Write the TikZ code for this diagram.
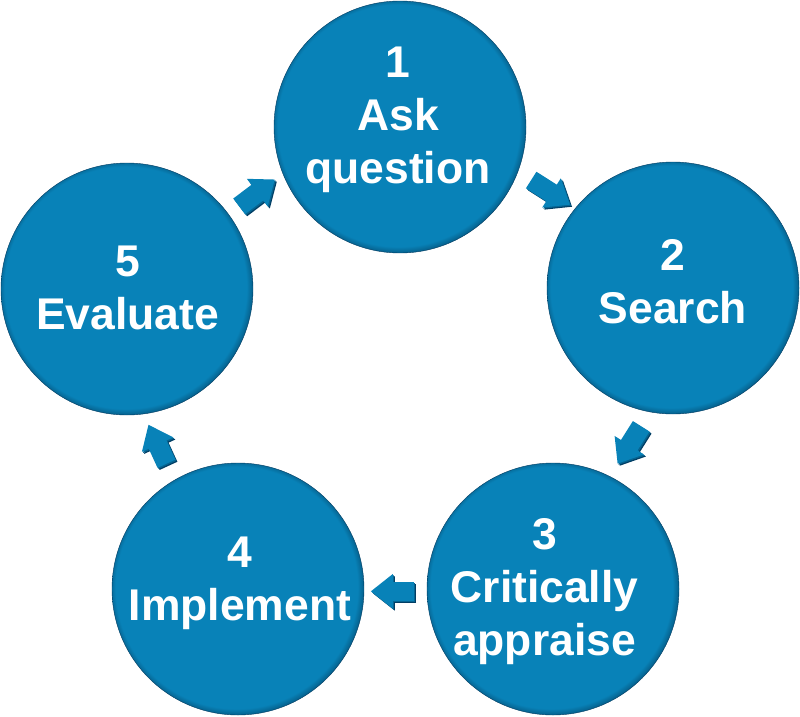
\documentclass[tikz,border=0pt]{standalone}
\usepackage{fontspec}
\setmainfont{Liberation Sans}
\usetikzlibrary{arrows.meta}
\definecolor{discblue}{RGB}{8,130,184}
\definecolor{discmid}{RGB}{6,100,145}
\definecolor{discdark}{RGB}{2,62,100}
\pgfdeclareradialshading{discrim}{\pgfpoint{-.7bp}{.7bp}}{%
  color(0bp)=(discblue); color(24bp)=(discblue); color(25.1bp)=(discmid); color(25.9bp)=(discdark); color(40bp)=(discdark)}
\tikzset{
  disc/.style={circle,minimum size=179.2pt,inner sep=0pt,outer sep=0pt,shade,shading=discrim,draw=discdark,line width=.3pt},
  disclabel/.style={text=white,align=center,font=\fontsize{31.6}{37.7}\selectfont\bfseries},
  arrowtip/.style={-{Triangle[width=23.5pt,length=15.6pt]}},
  blockarrow/.style={arrowtip,line width=13.9pt,draw=discdark,
    postaction={draw=discmid,arrowtip,line width=13.9pt,transform canvas={shift={(-.7pt,.7pt)}}},
    postaction={draw=discblue,arrowtip,line width=13.9pt,transform canvas={shift={(-1.5pt,1.5pt)}}}},
}
\begin{document}
\begin{tikzpicture}[x=0.025cm,y=-0.025cm]
  \useasboundingbox (0,0) rectangle (800,716);
  \node[disc](ask)at(400,127){};
  \node[disc](search)at(673,288){};
  \node[disc](appraise)at(553,589){};
  \node[disc](implement)at(238,589){};
  \node[disc](evaluate)at(127,289){};
  \node[disclabel](asktext)at(398,120){1\\Ask\\question};
  \node[disclabel](searchtext)at(673,282){2\\Search};
  \node[disclabel](appraisetext)at(544.5,592){3\\Critically\\appraise};
  \node[disclabel](implementtext)at(240,583){4\\Implement};
  \node[disclabel](evaluatetext)at(127.5,288){5\\Evaluate};
  \draw[blockarrow,shorten <=13.2pt,shorten >=2.5pt](ask.-21.6)--(search.141);
  \draw[blockarrow,shorten <=13.4pt,shorten >=10pt](search.-99.5)--(appraise.62.9);
  \draw[blockarrow,shorten <=7.8pt,shorten >=6.4pt](appraise.182.3)--(implement.-2.3);
  \draw[blockarrow,shorten <=11pt,shorten >=10.2pt](implement.120)--(evaluate.-82.8);
  \draw[blockarrow,shorten <=9.8pt,shorten >=6.3pt](evaluate.35.3)--(ask.203.3);
\end{tikzpicture}
\end{document}
